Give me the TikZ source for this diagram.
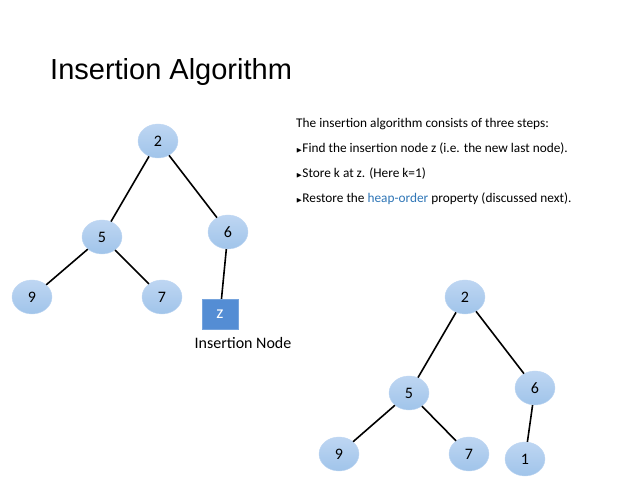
\documentclass[tikz,border=0pt]{standalone}
\usepackage{amssymb}
\usepackage{fontspec}
\setmainfont{Carlito}
\newfontfamily\titlefont{Liberation Sans}
\usetikzlibrary{shapes.geometric}
\definecolor{nodeblue}{RGB}{160,196,234}
\definecolor{nodetop}{RGB}{190,214,242}
\definecolor{zblue}{RGB}{84,141,212}
\definecolor{linkblue}{RGB}{46,117,182}
\newcommand{\arrowbul}{{\scriptsize$\blacktriangleright$}}
\begin{document}
\begin{tikzpicture}[x=1pt,y=-1pt,
  hn/.style={ellipse,minimum width=40pt,minimum height=34pt,inner sep=0pt,top color=nodetop,bottom color=nodeblue,draw=nodetop,font=\fontsize{16}{18}\selectfont},
  ed/.style={line width=1.6pt,black},
  txt/.style={anchor=west,font=\fontsize{13.3}{15}\selectfont,inner sep=0pt}]
\useasboundingbox (0,0) rectangle (638,478);
\node[anchor=west,inner sep=0pt,font=\titlefont\fontsize{29}{32}\selectfont] (title) at (50,72) {Insertion Algorithm};
\node[txt] (t0) at (296,124) {The insertion algorithm consists of three steps:};
\node[txt] (t1) at (296,149) {\arrowbul Find the insertion node z (i.e. the new last node).};
\node[txt] (t2) at (296,174) {\arrowbul Store k at z. (Here k=1)};
\node[txt] (t3) at (296,199) {\arrowbul Restore the \textcolor{linkblue}{heap-order} property (discussed next).};
% left tree
\node[hn] (a2) at (158,141) {2};
\node[hn] (a5) at (102,237) {5};
\node[hn] (a6) at (228,232) {6};
\node[hn] (a9) at (32,297) {9};
\node[hn] (a7) at (162,297) {7};
\node[fill=zblue,draw=zblue!80!white,minimum width=36pt,minimum height=30pt,inner sep=0pt,text=white,font=\fontsize{18}{20}\selectfont] (z) at (220,314) {z};
\node[font=\fontsize{16}{18}\selectfont] (lab) at (243,343) {Insertion Node};
\draw[ed] (a2) -- (a5); \draw[ed] (a2) -- (a6);
\draw[ed] (a5) -- (a9); \draw[ed] (a5) -- (a7);
\draw[ed] (a6) -- (z);
% right tree
\node[hn] (b2) at (465,297) {2};
\node[hn] (b5) at (409,393) {5};
\node[hn] (b6) at (535,388) {6};
\node[hn] (b9) at (339,454) {9};
\node[hn] (b7) at (469,454) {7};
\node[hn] (b1) at (525,459) {1};
\draw[ed] (b2) -- (b5); \draw[ed] (b2) -- (b6);
\draw[ed] (b5) -- (b9); \draw[ed] (b5) -- (b7);
\draw[ed] (b6) -- (b1);
\end{tikzpicture}
\end{document}
